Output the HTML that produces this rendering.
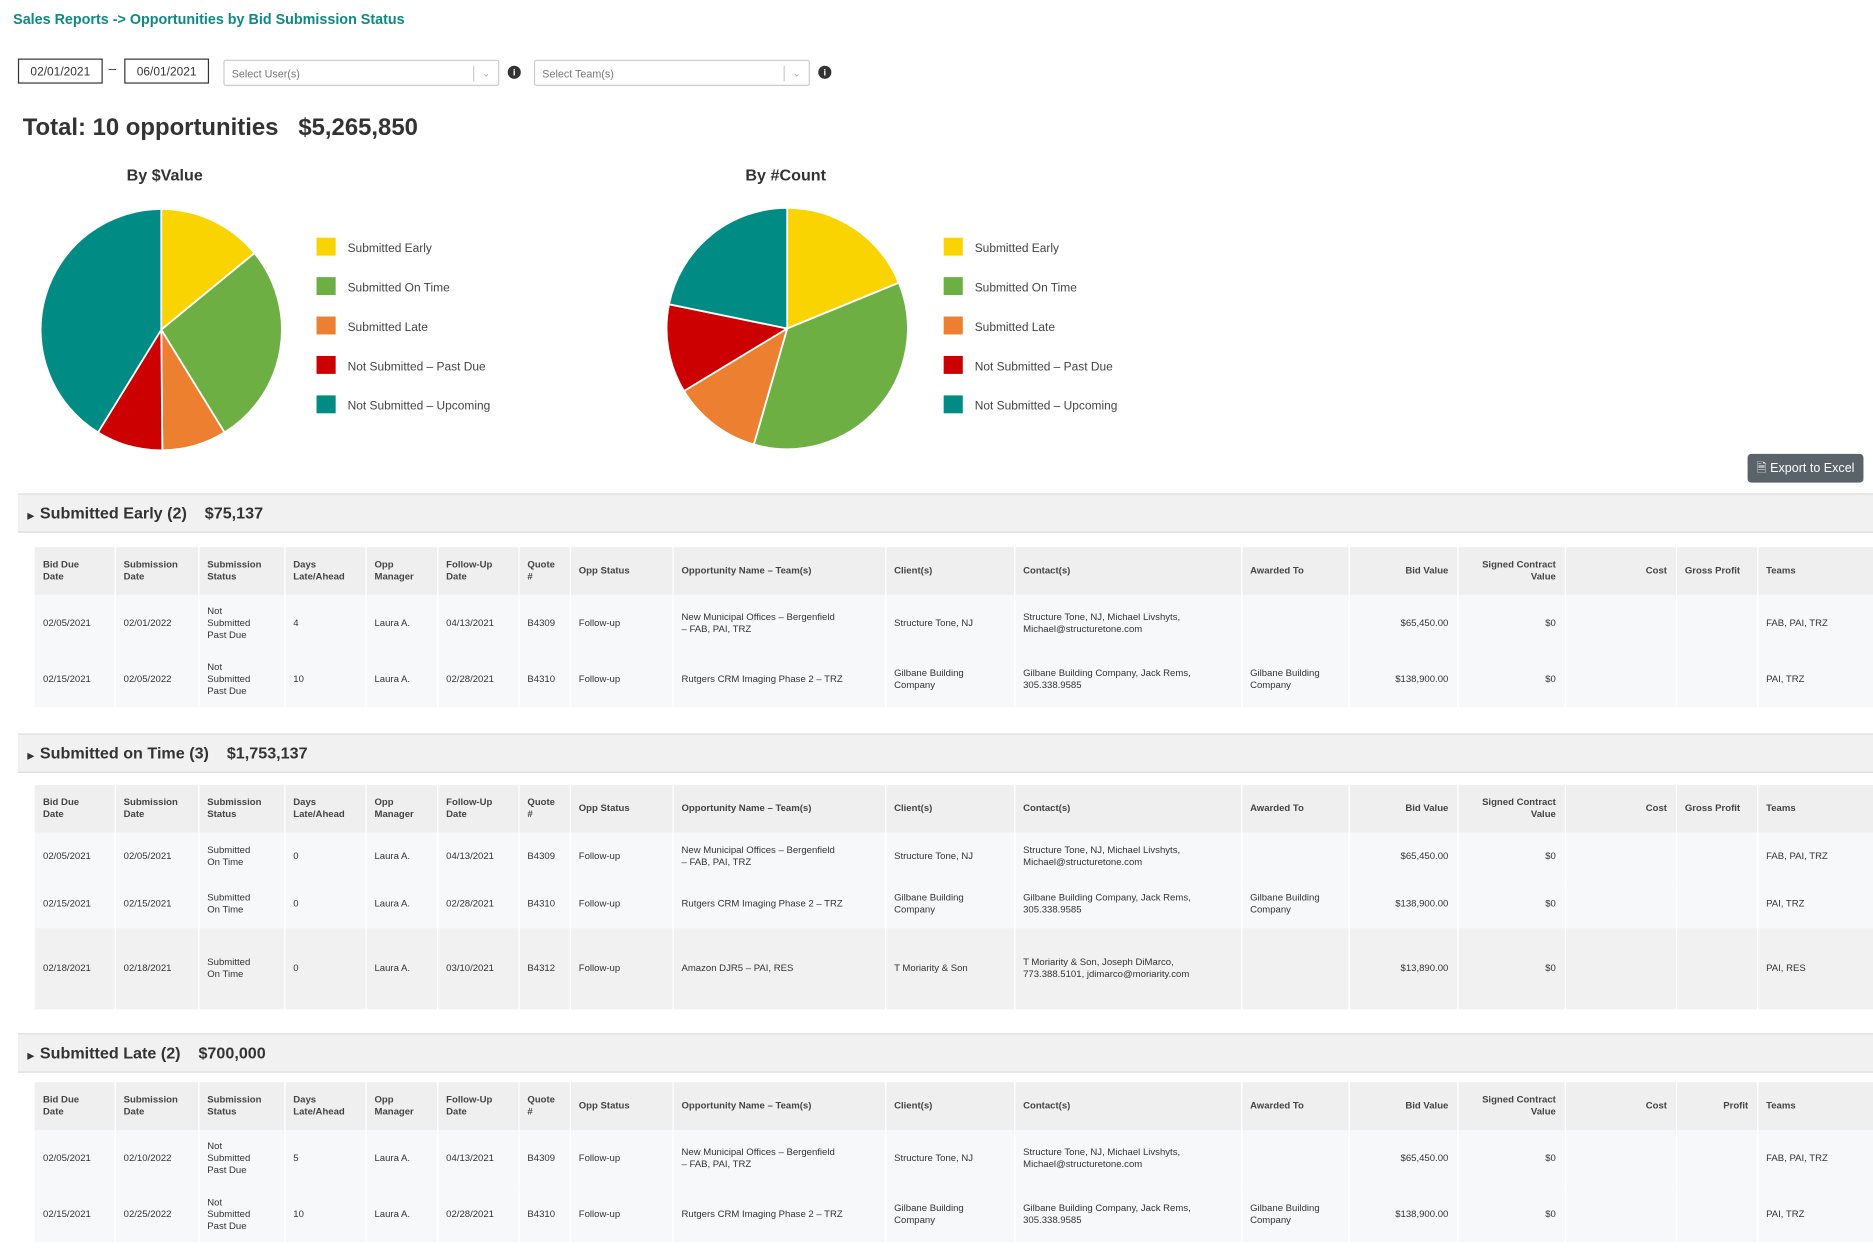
<!DOCTYPE html>
<html><head><meta charset="utf-8"><style>
html,body{margin:0;padding:0;background:#fff;overflow:hidden;width:1873px;height:1255px}
#wrap{position:absolute;left:0;top:0;width:1568px;height:1051px;transform:scale(1.19452);transform-origin:0 0;font-family:"Liberation Sans",sans-serif;color:#333}
.abs{position:absolute}
.title{left:11px;top:9px;font-size:12px;font-weight:bold;color:#0e8a84}
.date{top:49px;height:21px;width:71px;border:1px solid #333;font-size:10px;text-align:center;line-height:21px;box-sizing:border-box}
.sel{top:50px;height:22px;border:1px solid #ccc;border-radius:2px;font-size:9px;color:#777;line-height:22px;padding-left:6px;box-sizing:border-box}
.sel .dd{position:absolute;right:0;top:4px;width:20px;height:13px;border-left:1px solid #ccc;text-align:center;line-height:13px;color:#aaa;font-size:8px}
.info{top:55px;width:11px;height:11px;border-radius:50%;background:#333;color:#fff;font-size:8px;font-weight:bold;text-align:center;line-height:11px}
.total{left:19px;top:96px;font-size:20px;font-weight:bold;color:#333}
.pt{font-size:13.5px;font-weight:bold;color:#333;top:139px}
.sect{left:15px;width:1553px;height:31px;background:#f1f1f1;border-top:1px solid #ddd;border-bottom:1px solid #ddd;font-size:13.5px;line-height:31px;color:#333;font-weight:600}
table{position:absolute;left:29px;border-collapse:collapse;font-size:8px;color:#333;table-layout:fixed}
td,th{border-right:1px solid #fff;padding:0 7px;vertical-align:middle;line-height:10px;overflow:hidden}
th{background:#efefef;font-weight:bold;text-align:left;color:#444}
td{background:#f7f8fa}
.r{text-align:right}
.btn{left:1463px;top:380px;width:97px;height:24px;background:#5b636a;border-radius:3px;color:#fff;font-size:10.5px;line-height:24px;text-align:center}
</style></head><body>
<div id="wrap">
<div class="abs title">Sales Reports -&gt; Opportunities by Bid Submission Status</div>
<div class="abs date" style="left:15px">02/01/2021</div>
<div class="abs" style="left:91px;top:52px;font-size:11px">–</div>
<div class="abs date" style="left:104px">06/01/2021</div>
<div class="abs sel" style="left:187px;width:231px">Select User(s)<span class="dd">&#8964;</span></div>
<div class="abs info" style="left:425px">i</div>
<div class="abs sel" style="left:447px;width:231px">Select Team(s)<span class="dd">&#8964;</span></div>
<div class="abs info" style="left:685px">i</div>
<div class="abs total">Total: 10 opportunities &nbsp;&nbsp;$5,265,850</div>
<div class="abs pt" style="left:106px">By $Value</div>
<div class="abs pt" style="left:624px">By #Count</div>
<svg class="abs" style="left:0;top:160px" width="1000" height="230" id="charts"></svg>
<div class="abs btn">&#128462; Export to Excel</div>
<div id="tables"></div>
</div>
<script>
const categories=["Submitted Early","Submitted On Time","Submitted Late","Not Submitted – Past Due","Not Submitted – Upcoming"];
const valueSeries=[740000,1430000,455000,470000,2170000];
const countSeries=[1.9,3.6,1.2,1.2,2.2];
const colors=["#f9d400","#6daf43","#ec8030","#cc0000","#008b85"];
const NS="http://www.w3.org/2000/svg";
const svg=document.getElementById('charts');
function pie(vals,cx,cy,r,lx,name){
  const tot=vals.reduce((a,b)=>a+b,0);let a0=0;
  vals.forEach((v,i)=>{
    const a1=a0+v/tot*2*Math.PI;
    const x0=cx+r*Math.sin(a0),y0=cy-r*Math.cos(a0),x1=cx+r*Math.sin(a1),y1=cy-r*Math.cos(a1);
    const p=document.createElementNS(NS,'path');
    p.setAttribute('d',`M${cx},${cy}L${x0},${y0}A${r},${r} 0 ${a1-a0>Math.PI?1:0} 1 ${x1},${y1}Z`);
    p.setAttribute('fill',colors[i]);p.setAttribute('stroke','#fff');p.setAttribute('stroke-width','1.5');
    
    
    svg.appendChild(p);a0=a1;
    const s=document.createElementNS(NS,'rect');
    s.setAttribute('x',lx);s.setAttribute('y',39+i*33);s.setAttribute('width',16);s.setAttribute('height',15);s.setAttribute('fill',colors[i]);
    
    
    svg.appendChild(s);
    const t=document.createElementNS(NS,'text');
    t.setAttribute('x',lx+26);t.setAttribute('y',51+i*33);t.setAttribute('font-size','10');t.setAttribute('fill','#444');
    t.textContent=categories[i];
    
    
    svg.appendChild(t);
  });
}
pie(valueSeries,135,116,101,265,'value-pie');
pie(countSeries,659,115,101,790,'count-pie');

const cols=[67,70,72,68,60,68,43,86,178,108,190,90,91,90,93,68,97];
const heads=["Bid Due<br>Date","Submission<br>Date","Submission<br>Status","Days<br>Late/Ahead","Opp<br>Manager","Follow-Up<br>Date","Quote<br>#","Opp Status","Opportunity Name – Team(s)","Client(s)","Contact(s)","Awarded To","Bid Value","Signed Contract<br>Value","Cost","Gross Profit","Teams"];
const rightCols=[12,13,14,15];
const rA=["02/05/2021","","","","Laura A.","04/13/2021","B4309","Follow-up","New Municipal Offices – Bergenfield<br>– FAB, PAI, TRZ","Structure Tone, NJ","Structure Tone, NJ, Michael Livshyts,<br>Michael@structuretone.com","","$65,450.00","$0","","","FAB, PAI, TRZ"];
const rB=["02/15/2021","","","","Laura A.","02/28/2021","B4310","Follow-up","Rutgers CRM Imaging Phase 2 – TRZ","Gilbane Building<br>Company","Gilbane Building Company, Jack Rems,<br>305.338.9585","Gilbane Building<br>Company","$138,900.00","$0","","","PAI, TRZ"];
const rC=["02/18/2021","02/18/2021","Submitted<br>On Time","0","Laura A.","03/10/2021","B4312","Follow-up","Amazon DJR5 – PAI, RES","T Moriarity &amp; Son","T Moriarity &amp; Son, Joseph DiMarco,<br>773.388.5101, jdimarco@moriarity.com","","$13,890.00","$0","","","PAI, RES"];
function mk(base,d,s,days){const r=base.slice();r[1]=d;r[2]=s;r[3]=days;return r;}
const NSP="Not<br>Submitted<br>Past Due",OT="Submitted<br>On Time";
const sections=[
 {t:"Submitted Early (2)",v:"$75,137",top:413,th:458,rows:[mk(rA,"02/01/2022",NSP,"4"),mk(rB,"02/05/2022",NSP,"10")],h:[47,47],gp:"Gross Profit"},
 {t:"Submitted on Time (3)",v:"$1,753,137",top:614,th:657,rows:[mk(rA,"02/05/2021",OT,"0"),mk(rB,"02/15/2021",OT,"0"),rC],h:[40,40,68],gp:"Gross Profit"},
 {t:"Submitted Late (2)",v:"$700,000",top:865,th:906,rows:[mk(rA,"02/10/2022",NSP,"5"),mk(rB,"02/25/2022",NSP,"10")],h:[47,47],gp:"Profit"}
];
const host=document.getElementById('tables');
sections.forEach((s,si)=>{
  const sh=document.createElement('div');
  sh.className='abs sect';sh.style.top=s.top+'px';
  sh.innerHTML=`<span style="font-size:7px;margin:0 5px 0 8px">&#9654;</span>${s.t}&nbsp;&nbsp;&nbsp;&nbsp;${s.v}`;
  
  
  host.appendChild(sh);
  const tb=document.createElement('table');
  tb.style.top=s.th+'px';tb.style.width=cols.reduce((a,b)=>a+b,0)+'px';
  
  
  let h='<colgroup>'+cols.map(c=>`<col style="width:${c}px">`).join('')+'</colgroup><tr style="height:40px">';
  heads.forEach((x,i)=>{const lbl=i==15?s.gp:x;h+=`<th class="${rightCols.includes(i)&&i!=15?'r':(i==15&&si==2?'r':'')}">${lbl}</th>`;});
  h+='</tr>';
  s.rows.forEach((r,ri)=>{h+=`<tr style="height:${s.h[ri]}px">`;r.forEach((c,i)=>{h+=`<td class="${rightCols.includes(i)?'r':''}"${ri==2?' style="background:#f1f1f1"':''}>${c}</td>`;});h+='</tr>';});
  tb.innerHTML=h;
  host.appendChild(tb);
});
</script>
</body></html>
